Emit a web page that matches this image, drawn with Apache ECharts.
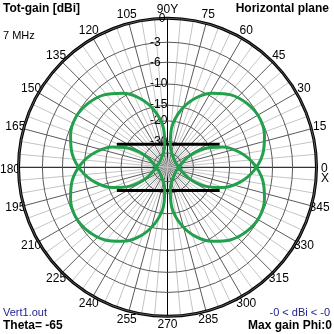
<!DOCTYPE html>
<html><head><meta charset="utf-8">
<script src="https://cdn.jsdelivr.net/npm/echarts@6/dist/echarts.min.js"></script>
<style>html,body{margin:0;padding:0;background:#fff}#c{width:334px;height:334px}</style>
</head><body><div id="c"></div>
<script>
// Ring levels (dBi) of the ARRL log scale
const ringDb = [0, -3, -6, -10, -15, -20, -30, -40];
const ringLabels = ['0', '-3', '-6', '-10', '-15', '-20', '-30', '-40'];
// Angle ticks every 5 deg, labels every 15 deg
const angleStep = 5;
const angleLabelStep = 15;

// Pattern lobes: azimuth (deg) and gain (dBi), traced from the innermost point
const lobe1Phi = [28.4, 333.8, 333.0, 339.7, 348.5, 358.0, 8.0, 18.1, 28.4, 38.6, 48.8, 58.7, 68.3, 77.0, 83.7, 82.9, 28.4];
const lobe1Db  = [-47.5, -32.6, -22.2, -16.1, -12.0, -9.3, -7.5, -6.5, -6.1, -6.5, -7.5, -9.3, -12.0, -16.1, -22.2, -32.6, -47.5];
const lobe2Phi = [151.6, 206.2, 207.0, 200.3, 191.5, 182.0, 172.0, 161.9, 151.6, 141.4, 131.2, 121.3, 111.7, 103.0, 96.3, 97.1, 151.6];
const lobe2Db  = [-47.5, -32.6, -22.2, -16.1, -12.0, -9.3, -7.5, -6.5, -6.1, -6.5, -7.5, -9.3, -12.0, -16.1, -22.2, -32.6, -47.5];
const lobe3Phi = [208.4, 153.8, 153.0, 159.7, 168.5, 178.0, 188.0, 198.1, 208.4, 218.6, 228.8, 238.7, 248.3, 257.0, 263.7, 262.9, 208.4];
const lobe3Db  = [-47.5, -32.6, -22.2, -16.1, -12.0, -9.3, -7.5, -6.5, -6.1, -6.5, -7.5, -9.3, -12.0, -16.1, -22.2, -32.6, -47.5];
const lobe4Phi = [331.6, 26.2, 27.0, 20.3, 11.5, 2.0, 352.0, 341.9, 331.6, 321.4, 311.2, 301.3, 291.7, 283.0, 276.3, 277.1, 331.6];
const lobe4Db  = [-47.5, -32.6, -22.2, -16.1, -12.0, -9.3, -7.5, -6.5, -6.1, -6.5, -7.5, -9.3, -12.0, -16.1, -22.2, -32.6, -47.5];

// Antenna wires (normalized plot units)
const wireX = [-0.34, 0.35];
const wireTopY = [0.155, 0.155];
const wireBotY = [-0.155, -0.155];

// ARRL scale: each -2 dB -> 0.89 of radius
const arrl = db => Math.pow(0.89, -db / 2);
const ringN = ringDb.map(arrl);
const normPhi = a => (a < 90 ? a + 360 : a);
const lobeData = (phi, db) => phi.map((p, i) => [arrl(db[i]), normPhi(p)]);

const CX = 167.5, CY = 167.3, R = 149;
const spokeColors = [];
for (let i = 0; i < 18; i++) spokeColors.push(i === 0 ? '#000' : (i % 3 === 0 ? '#5a5a5a' : '#c4c4c4'));

// ---- angle label placement: centre each label on a circle just outside the rim ----
const LBL_SIZE = 12, LBL_LH = 10;
const LBL_FAMILY = '"Liberation Sans Narrow", "Liberation Sans", Arial, sans-serif';
const LBL_R = 157.5, LBL_M = -12;
const mctx = document.createElement('canvas').getContext('2d');
mctx.font = LBL_SIZE + 'px ' + LBL_FAMILY;
const angleRich = {};
const angleFmt = {};
function angleText(a) { return a === 90 ? '90Y' : String(a); }
const base = {fontSize: LBL_SIZE, fontFamily: LBL_FAMILY, color: '#000', lineHeight: LBL_LH};
function spacer(name, hgt) {
  angleRich[name] = {fontSize: 1, lineHeight: hgt, height: hgt, color: '#000'};
}
for (let a = 0; a < 360; a += angleLabelStep) {
  const rad = a * Math.PI / 180, c = Math.cos(rad), s = Math.sin(rad);
  const Ra = R + LBL_M;
  const ax = Ra * c, ay = -Ra * s;
  const hAlign = Math.abs(ax) / R < 0.3 ? 'center' : (ax > 0 ? 'left' : 'right');
  const vAlign = Math.abs(ay) / R < 0.3 ? 'middle' : (ay > 0 ? 'top' : 'bottom');
  if (a === 0) {
    const pl = Math.max(0, 153.4 - ax);
    angleRich['l0'] = Object.assign({}, base, {padding: [0, 0, 0, pl]});
    spacer('g0', 12.4);
    angleFmt[0] = '{g0| }\n{l0|0}\n{l0|X}';
    continue;
  }
  const txt = angleText(a);
  const w = mctx.measureText(txt).width, h = LBL_LH;
  const dx = LBL_R * c;
  let dy = -LBL_R * s;
  if (a === 180) dy += 2.5;
  let pl = 0, pr = 0, pt = 0, pb = 0;
  if (hAlign === 'left') pl = dx - w / 2 - ax;
  else if (hAlign === 'right') pr = ax - (dx + w / 2);
  else { const d = 2 * (dx - ax); if (d > 0) pl = d; else pr = -d; }
  let fmt = '{l' + a + '|' + txt + '}';
  if (vAlign === 'top') pt = 2 * (dy - h / 2 - ay);
  else if (vAlign === 'bottom') pb = 2 * (ay - dy - h / 2);
  else {
    const sh = dy - ay;
    if (Math.abs(sh) > 0.3) {
      spacer('g' + a, 2 * Math.abs(sh));
      fmt = sh > 0 ? '{g' + a + '| }\n' + fmt : fmt + '\n{g' + a + '| }';
    }
  }
  angleRich['l' + a] = Object.assign({}, base, {padding: [Math.max(0, pt), Math.max(0, pr), Math.max(0, pb), Math.max(0, pl)]});
  angleFmt[a] = fmt;
}

const green = '#22a04c';
const lobeSeries = [[lobe1Phi, lobe1Db], [lobe2Phi, lobe2Db], [lobe3Phi, lobe3Db], [lobe4Phi, lobe4Db]].map(([p, d]) => ({
  type: 'line', coordinateSystem: 'polar', polarIndex: 0, data: lobeData(p, d),
  symbol: 'none', smooth: 0.34, smoothConstraint: false, lineStyle: {color: green, width: 3}, z: 5, silent: true
}));

const chart = echarts.init(document.getElementById('c'), null, {renderer: 'canvas'});
chart.setOption({
  animation: false,
  polar: {center: [CX, CY], radius: R},
  angleAxis: {
    type: 'value', min: 90, max: 450, interval: angleStep, startAngle: 90, clockwise: false,
    axisLine: {show: true, lineStyle: {color: '#000', width: 3}},
    axisTick: {show: false},
    axisLabel: {
      interval: 2, margin: LBL_M, color: '#000', fontSize: LBL_SIZE, fontFamily: LBL_FAMILY,
      rich: angleRich,
      formatter: v => {
        if (v === 450) return '';
        const a = v % 360;
        if (a % angleLabelStep !== 0) return '';
        return angleFmt[a];
      }
    },
    splitLine: {show: true, lineStyle: {color: spokeColors, width: 1}},
    z: 2
  },
  radiusAxis: {
    type: 'value', min: 0, max: 1,
    axisLine: {show: false},
    axisTick: {show: false, customValues: ringN},
    axisLabel: {
      customValues: ringN, margin: 2, color: '#000', fontSize: 12, fontFamily: LBL_FAMILY,
      rich: {
        r: {width: 15.5, align: 'left', fontSize: 12, fontFamily: LBL_FAMILY, color: '#000'},
        z: {width: 15.5, align: 'right', fontSize: 12, fontFamily: LBL_FAMILY, color: '#000'}
      },
      formatter: v => {
        let best = 0, bd = 9;
        ringN.forEach((n, i) => { if (Math.abs(n - v) < bd) { bd = Math.abs(n - v); best = i; } });
        const t = ringLabels[best];
        return (t.charAt(0) === '-' ? '{r|' : '{z|') + t + '}';
      }
    },
    splitLine: {show: true, lineStyle: {color: '#5a5a5a', width: 1}},
    z: 3
  },
  grid: {left: CX - R, top: CY - R, width: 2 * R, height: 2 * R, show: false},
  xAxis: {type: 'value', min: -1, max: 1, show: false},
  yAxis: {type: 'value', min: -1, max: 1, show: false},
  series: [
    {type: 'line', data: wireX.map((x, i) => [x, wireTopY[i]]), symbol: 'none', lineStyle: {color: '#000', width: 3}, z: 4, silent: true},
    {type: 'line', data: wireX.map((x, i) => [x, wireBotY[i]]), symbol: 'none', lineStyle: {color: '#000', width: 3}, z: 4, silent: true},
    ...lobeSeries
  ],
  graphic: [
    {type: 'text', x: 3, y: 3, style: {text: 'Tot-gain [dBi]', font: 'bold 12px "Liberation Sans", Arial', fill: '#000', align: 'left', verticalAlign: 'top'}},
    {type: 'text', x: 3, y: 30, style: {text: '7 MHz', font: '11px "Liberation Sans", Arial', fill: '#000', align: 'left', verticalAlign: 'top'}},
    {type: 'text', x: 329, y: 3, style: {text: 'Horizontal plane', font: 'bold 12px "Liberation Sans", Arial', fill: '#000', align: 'right', verticalAlign: 'top'}},
    {type: 'text', x: 3, y: 307, style: {text: 'Vert1.out', font: '11px "Liberation Sans", Arial', fill: '#1c1c8c', align: 'left', verticalAlign: 'top'}},
    {type: 'text', x: 3, y: 320, style: {text: 'Theta= -65', font: 'bold 12px "Liberation Sans", Arial', fill: '#000', align: 'left', verticalAlign: 'top'}},
    {type: 'text', x: 330, y: 307, style: {text: '-0 < dBi < -0', font: '11px "Liberation Sans", Arial', fill: '#1c1c8c', align: 'right', verticalAlign: 'top'}},
    {type: 'text', x: 332, y: 320, style: {text: 'Max gain Phi:0', font: 'bold 12px "Liberation Sans", Arial', fill: '#000', align: 'right', verticalAlign: 'top'}}
  ]
});
</script></body></html>
